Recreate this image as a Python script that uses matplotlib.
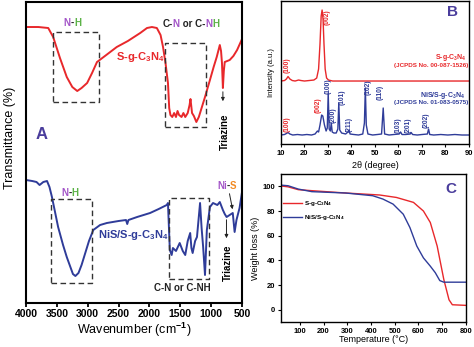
import matplotlib
matplotlib.use("Agg")
import matplotlib.pyplot as plt

plt.rcParams['font.family'] = ['Liberation Sans', 'DejaVu Sans']
plt.rcParams['font.weight'] = 'bold'
plt.rcParams['mathtext.fontset'] = 'custom'
plt.rcParams['mathtext.rm'] = 'Liberation Sans:bold'
plt.rcParams['mathtext.bf'] = 'Liberation Sans:bold'
plt.rcParams['mathtext.default'] = 'bf'

RED = '#e8282b'
BLUE = '#2f3c99'
PURPLE = '#a355c8'
GREEN = '#5cb247'
ORANGE = '#f28a22'
LETTER = '#4a3d9c'

# ---- panel A : FTIR (wavenumber, transmittance a.u.)
ftir_red_wn = [4000, 3800, 3640, 3560, 3450, 3340, 3250, 3170, 3100, 3010, 2930, 2850, 2700,
               2530, 2350, 2150, 2040, 1960, 1880, 1820, 1780, 1740, 1700, 1680, 1660, 1630,
               1600, 1570, 1545, 1520, 1480, 1450, 1420, 1380, 1350, 1335, 1310, 1280, 1240,
               1200, 1150, 1100, 1020, 960, 910, 860, 840, 825, 810, 795, 780, 700, 640, 580, 500]
ftir_red_t = [276, 276, 275, 266, 245, 226, 216, 212, 215, 220, 230, 241, 248,
              256, 262, 270, 275, 276, 275, 268, 256, 240, 220, 195, 188, 186,
              190, 186, 192, 188, 186, 190, 186, 190, 198, 204, 190, 187, 181,
              186, 196, 206, 223, 236, 246, 258, 252, 240, 215, 232, 241, 243, 247, 253, 264]

ftir_blue_wn = [4000, 3900, 3830, 3780, 3720, 3660, 3620, 3580, 3480, 3400, 3340, 3240, 3200,
                3150, 3100, 3040, 2980, 2910, 2800, 2690, 2500, 2380, 2360, 2340, 2200, 1990,
                1850, 1720, 1700, 1670, 1640, 1620, 1570, 1510, 1460, 1420, 1380, 1340, 1320,
                1300, 1260, 1230, 1180, 1155, 1130, 1100, 1070, 1020, 970, 900, 860, 810, 780,
                750, 700, 650, 620, 590, 540, 500]
ftir_blue_t = [123, 122, 121, 118, 121, 122, 116, 106, 76, 58, 46, 29, 27,
               30, 38, 50, 62, 73, 78, 80, 82, 83, 79, 83, 86, 90,
               94, 98, 100, 53, 48, 55, 52, 60, 52, 48, 62, 70, 55,
               50, 62, 66, 100, 75, 56, 28, 73, 96, 100, 98, 101, 93, 89,
               86, 88, 90, 71, 83, 95, 111]

# ---- panel B : XRD (2theta, intensity a.u.)
xrd_red_x = [10, 11.5, 12.3, 13.0, 13.8, 14.8, 16, 17.5, 18.5, 20, 22, 24, 25.2, 26.0, 26.6,
             27.1, 27.5, 27.9, 28.3, 28.8, 29.4, 30.2, 32, 35, 40, 50, 60, 70, 80, 90]
xrd_red_y = [63, 63.5, 65, 67.5, 65, 63.5, 63, 64, 63.5, 63, 63.5, 64, 66, 75, 100,
             128, 134, 125, 100, 75, 66, 64, 63, 63, 63, 63, 63, 63, 63, 63]

xrd_blue_x = [10, 11.5, 12.3, 13.0, 13.8, 15, 17, 19, 21, 23, 24.5, 25.5, 26.0, 26.6, 27.3,
              27.8, 28.5, 29.2, 29.7, 30.1, 30.5, 31.0, 31.4, 31.8, 32.5, 33.5, 34.2, 34.6,
              35.0, 35.8, 37.5, 38.5, 38.9, 39.4, 41, 43, 44.8, 45.5, 45.9, 46.3, 47, 49, 51,
              52.8, 53.5, 54.1, 56, 58, 60.3, 60.9, 61.5, 63, 65.0, 65.4, 66, 68, 70, 72.3,
              72.8, 73.3, 75, 78, 81, 84, 87, 90]
xrd_blue_y = [9, 9.5, 10.5, 11.5, 10, 9, 9.5, 9, 9.5, 9, 10, 13, 12, 19, 29,
              28, 19, 13, 16, 51, 15, 13, 21, 12, 11, 11, 15, 41,
              14, 11, 10, 12, 14, 10, 9.5, 9, 10, 21, 56, 19, 10, 9, 9.5,
              10, 36, 10, 9, 9.5, 10, 12, 9.5, 9.5, 10, 11.5, 9.5, 9, 9.5, 10,
              15, 9.5, 9, 9.5, 9, 9.5, 9, 9]

xrd_red_labels = [('(100)', 12.5, 79), ('(002)', 29.5, 127)]
xrd_blue_labels = [('(100)', 12.6, 20, RED), ('(002)', 25.7, 39, RED),
                   ('(100)', 30.0, 58, BLUE), ('(200)', 32.1, 29, BLUE),
                   ('(101)', 35.9, 47, BLUE), ('(211)', 38.9, 20, BLUE),
                   ('(102)', 47.0, 57, BLUE), ('(110)', 52.1, 52, BLUE),
                   ('(103)', 59.8, 19, BLUE), ('(201)', 64.0, 19, BLUE),
                   ('(202)', 71.7, 24, BLUE)]

# ---- panel C : TGA (temperature, weight %)
tga_red_t = [20, 50, 93, 150, 293, 436, 507, 579, 621, 650, 679, 707, 729, 743, 800]
tga_red_w = [100.3, 99.6, 97.3, 96.5, 94.6, 93, 91, 87, 80, 70.7, 51.6, 24.5, 8, 4, 3.5]
tga_blue_t = [20, 50, 93, 150, 293, 407, 450, 493, 536, 564, 593, 621, 650, 671, 690, 707, 800]
tga_blue_w = [101, 100.5, 97.8, 95.7, 94.6, 92.4, 89.7, 85.6, 77.4, 66.6, 51.6, 42, 35.3, 30,
              23.6, 22.3, 22.3]


def color_text(ax, x, y, parts, **kw):
    t = ax.text(x, y, parts[0][0], color=parts[0][1], **kw)
    for s, c in parts[1:]:
        t = ax.annotate(s, xycoords=t, xy=(1, 0), va='bottom', color=c, **kw)
    return t


fig = plt.figure(figsize=(4.74, 3.47), dpi=100)

# ================= A
axA = fig.add_axes([0.0549, 0.1268, 0.4557, 0.8674])
axA.plot(ftir_red_wn, ftir_red_t, color=RED, lw=1.4)
axA.plot(ftir_blue_wn, ftir_blue_t, color=BLUE, lw=1.4)
axA.set_xlim(4000, 500)
axA.set_ylim(0, 301)
axA.set_xticks([4000, 3500, 3000, 2500, 2000, 1500, 1000, 500])
axA.set_yticks([])
axA.tick_params(axis='x', labelsize=7.5, width=1.3, length=3, pad=1.5)
for s in axA.spines.values():
    s.set_linewidth(1.5)
axA.set_xlabel('Wavenumber (cm$^{-1}$)', fontsize=9, labelpad=1)
axA.set_ylabel('Transmittance (%)', fontsize=9)
axA.yaxis.set_label_coords(-0.045, 0.55)

box = dict(color='#333333', lw=1.0, ls=(0, (4, 2.5)))
for x0, x1, y0, y1 in [(3560, 2820, 201, 271), (1750, 1080, 176, 260),
                       (3600, 2930, 20, 104), (1680, 1030, 24, 105)]:
    axA.plot([x0, x1, x1, x0, x0], [y0, y0, y1, y1, y0], **box)

color_text(axA, 3390, 277, [('N', PURPLE), ('-', '#222222'), ('H', GREEN)], fontsize=7)
color_text(axA, 1790, 276, [('C-', '#222222'), ('N', PURPLE), (' or C-', '#222222'),
                             ('N', PURPLE), ('H', GREEN)], fontsize=7)
color_text(axA, 3430, 107, [('N', PURPLE), ('-', '#222222'), ('H', GREEN)], fontsize=7)
axA.text(1460, 15, 'C-N or C-NH', fontsize=7, ha='center', va='center', color='#222222')
color_text(axA, 905, 114, [('Ni', PURPLE), ('-', '#222222'), ('S', ORANGE)], fontsize=7)

axA.text(2150, 246, 'S-g-C$_3$N$_4$', color=RED, fontsize=8, ha='center', va='center')
axA.text(2260, 68, 'NiS/S-g-C$_3$N$_4$', color=BLUE, fontsize=8, ha='center', va='center')
axA.text(3740, 169, 'A', color=LETTER, fontsize=12, ha='center', va='center')

axA.text(784, 171, 'Triazine', rotation=90, fontsize=7, ha='center', va='center')
axA.text(727, 40, 'Triazine', rotation=90, fontsize=7, ha='center', va='center')
arr = dict(arrowstyle='-|>', color='#222222', lw=0.7, mutation_scale=5)
axA.annotate('', xy=(810, 199), xytext=(810, 214), arrowprops=arr)
axA.annotate('', xy=(752, 62), xytext=(752, 86), arrowprops=arr)
axA.annotate('', xy=(645, 91), xytext=(712, 112), arrowprops=arr)

# ================= B
axB = fig.add_axes([0.5928, 0.585, 0.3966, 0.412])
axB.plot(xrd_red_x, xrd_red_y, color=RED, lw=1.0)
axB.plot(xrd_blue_x, xrd_blue_y, color=BLUE, lw=1.0)
axB.set_xlim(10, 90)
axB.set_ylim(0, 143)
axB.set_xticks(range(10, 91, 10))
axB.set_yticks([])
axB.tick_params(axis='x', labelsize=5.5, width=0.8, length=2.5, pad=1.5)
for s in axB.spines.values():
    s.set_linewidth(1.0)
axB.set_xlabel('2θ (degree)', fontsize=6.5, labelpad=3)
axB.set_ylabel('Intensity (a.u.)', fontsize=5.5, labelpad=4)

for s, x, y in xrd_red_labels:
    axB.text(x, y, s, rotation=90, color=RED, fontsize=4.8, ha='center', va='center')
for s, x, y, c in xrd_blue_labels:
    axB.text(x, y, s, rotation=90, color=c, fontsize=4.8, ha='center', va='center')

axB.text(89.0, 87, 'S-g-C$_3$N$_4$', color=RED, fontsize=5, ha='right', va='center')
axB.text(89.6, 79, '(JCPDS No. 00-087-1526)', color=RED, fontsize=4.5, ha='right', va='center')
axB.text(88.3, 49, 'NiS/S-g-C$_3$N$_4$', color=BLUE, fontsize=5, ha='right', va='center')
axB.text(89.9, 42, '(JCPDS No. 01-083-0575)', color=BLUE, fontsize=4.5, ha='right', va='center')
axB.text(0.91, 0.92, 'B', color=LETTER, fontsize=11, ha='center', va='center',
         transform=axB.transAxes)

# ================= C
axC = fig.add_axes([0.5928, 0.072, 0.390, 0.4265])
axC.plot(tga_red_t, tga_red_w, color=RED, lw=1.0, label='S-g-C$_3$N$_4$')
axC.plot(tga_blue_t, tga_blue_w, color=BLUE, lw=1.0, label='NiS/S-g-C$_3$N$_4$')
axC.set_xlim(20, 800)
axC.set_ylim(-10, 110)
axC.set_xticks(range(100, 801, 100))
axC.set_yticks(range(0, 101, 20))
axC.tick_params(labelsize=5.5, width=0.8, length=2.5, pad=1.5)
for s in axC.spines.values():
    s.set_linewidth(1.0)
axC.set_xlabel('Temperature (°C)', fontsize=6.5, labelpad=0)
axC.set_ylabel('Weight loss (%)', fontsize=6.5, labelpad=2)
axC.legend(loc='upper left', bbox_to_anchor=(-0.02, 0.87), frameon=False, fontsize=4.5,
           handlelength=3, handletextpad=0.4, labelspacing=0.8)
axC.text(0.92, 0.9, 'C', color=LETTER, fontsize=11, ha='center', va='center',
         transform=axC.transAxes)

fig.savefig('out.png', dpi=100)
